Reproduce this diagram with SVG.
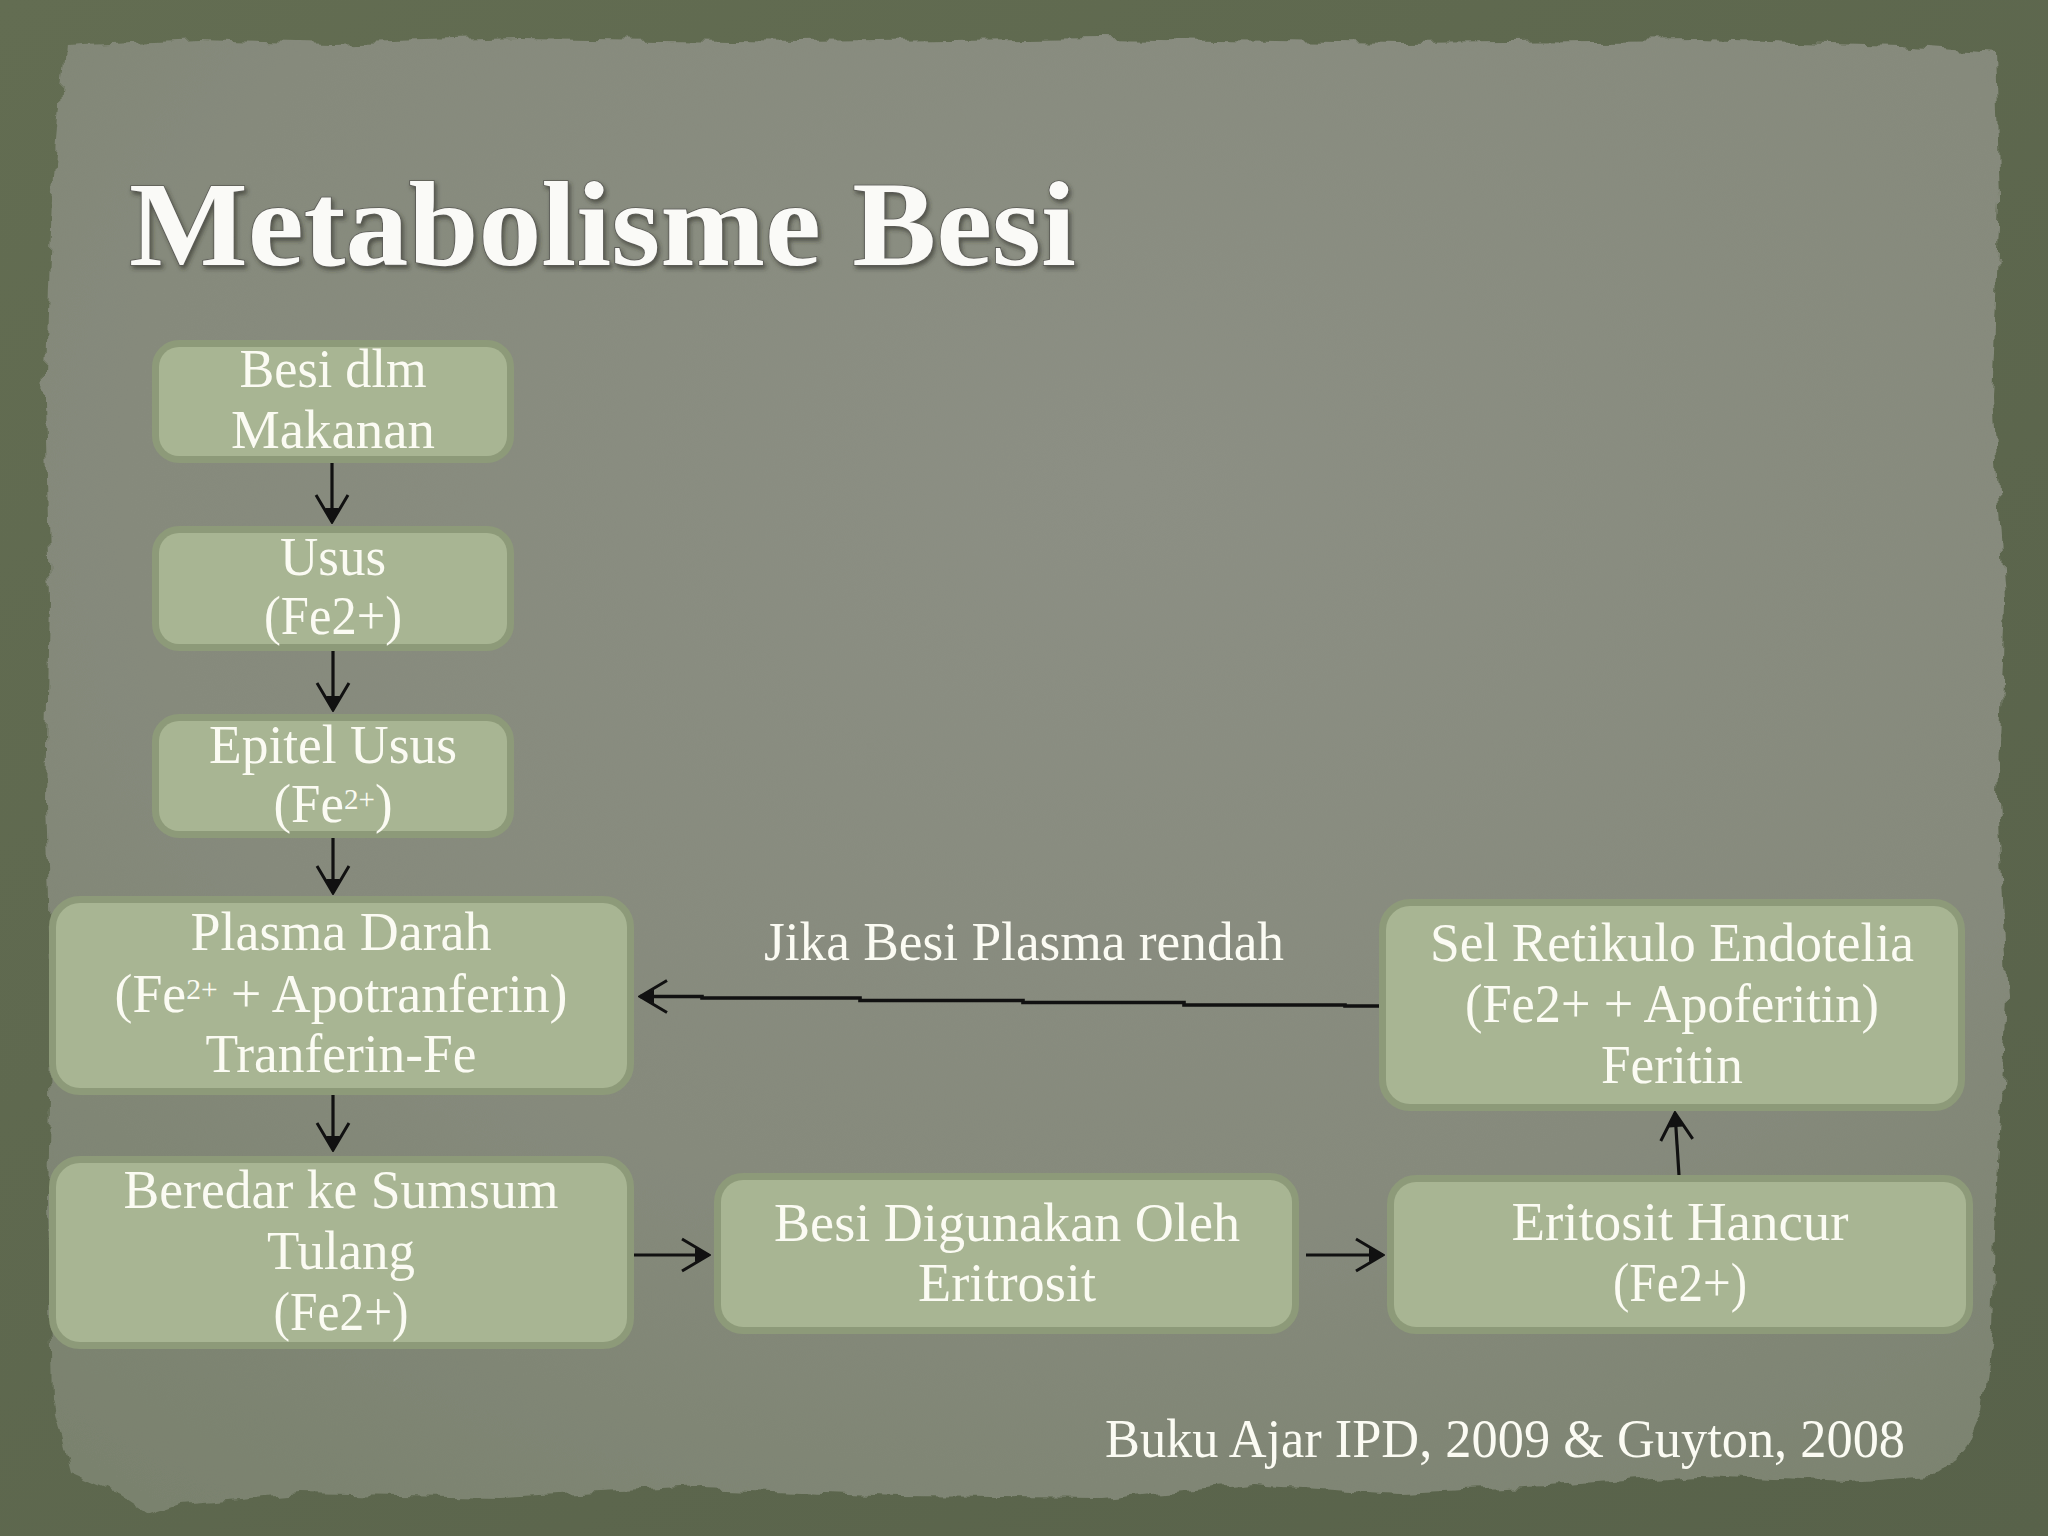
<svg xmlns="http://www.w3.org/2000/svg" width="2048" height="1536" viewBox="0 0 2048 1536">
  <defs>
    <style>
      .box { fill: #a8b593; stroke: #8d9a79; stroke-width: 14; paint-order: stroke; }
      .t { font-family: "Liberation Serif", "DejaVu Serif", serif; font-size: 54px; fill: #fbfbf3; text-anchor: middle; }
      .lbl { font-family: "Liberation Serif", "DejaVu Serif", serif; font-size: 54px; fill: #fbfbf3; }
      .sup { font-size: 55%; baseline-shift: 45%; }
      .conn { stroke: #111; stroke-width: 3.2; fill: none; }
      .title { font-family: "Liberation Serif", "DejaVu Serif", serif; font-size: 120px; font-weight: bold; fill: #fafaf7; stroke: #5a5a55; stroke-width: 1.6; paint-order: stroke; }
    </style>
    <marker id="arr" viewBox="-32 -20 34 40" markerWidth="34" markerHeight="40" refX="0" refY="0" orient="auto" markerUnits="userSpaceOnUse">
      <path d="M-27,-16 L0,0 L-27,16" fill="none" stroke="#111" stroke-width="3"/>
      <path d="M-14,-7 L0,0 L-14,7 Z" fill="#111"/>
    </marker>
    <radialGradient id="paperG" cx="0.55" cy="0.3" r="0.85">
      <stop offset="0" stop-color="#8c8f84"/>
      <stop offset="0.6" stop-color="#868a7c"/>
      <stop offset="1" stop-color="#7a826e"/>
    </radialGradient>
    <linearGradient id="frameG" x1="0" y1="0" x2="1" y2="1">
      <stop offset="0" stop-color="#636d52"/>
      <stop offset="1" stop-color="#58624a"/>
    </linearGradient>
    <filter id="rough" x="-2%" y="-2%" width="104%" height="104%">
      <feTurbulence type="fractalNoise" baseFrequency="0.04" numOctaves="3" seed="4" result="n"/>
      <feDisplacementMap in="SourceGraphic" in2="n" scale="14" xChannelSelector="R" yChannelSelector="G"/>
    </filter>
    <filter id="shadow" x="-5%" y="-20%" width="110%" height="140%">
      <feDropShadow dx="2" dy="3" stdDeviation="2" flood-color="#2a2a26" flood-opacity="0.6"/>
    </filter>
  </defs>

  <rect x="0" y="0" width="2048" height="1536" fill="url(#frameG)"/>
  <path filter="url(#rough)" fill="url(#paperG)" d="M65,46 L200,40 L330,44 L520,38 L800,42 L1100,38 L1400,43 L1700,40 L1900,46 L1995,53 L2000,200 L1992,400 L2005,600 L1998,800 L2008,1000 L1996,1200 L1992,1330 L1982,1410 L1962,1455 L1930,1476 L1850,1482 L1700,1476 L1550,1486 L1400,1493 L1250,1484 L1100,1498 L900,1496 L700,1488 L500,1498 L300,1494 L180,1504 L150,1514 L120,1494 L70,1472 L52,1400 L48,1200 L52,1000 L46,800 L50,600 L45,400 L52,200 Z"/>

  <text class="title" x="129" y="265" textLength="947" lengthAdjust="spacingAndGlyphs" filter="url(#shadow)">Metabolisme Besi</text>

  <g id="connectors">
    <line class="conn" x1="332" y1="462" x2="332" y2="522" marker-end="url(#arr)"/>
    <line class="conn" x1="333" y1="650" x2="333" y2="710" marker-end="url(#arr)"/>
    <line class="conn" x1="333" y1="837" x2="333" y2="893" marker-end="url(#arr)"/>
    <line class="conn" x1="333" y1="1093" x2="333" y2="1150" marker-end="url(#arr)"/>
    <line class="conn" x1="633" y1="1255" x2="709" y2="1255" marker-end="url(#arr)"/>
    <line class="conn" x1="1306" y1="1255" x2="1383" y2="1255" marker-end="url(#arr)"/>
    <line class="conn" x1="1679" y1="1175" x2="1675" y2="1113" marker-end="url(#arr)"/>
    <polyline class="conn" style="stroke-width:3.6" points="1381,1006 1345,1006 1345,1005 1184,1005 1184,1002.5 1023,1002.5 1023,1000.5 860,1000.5 860,998 702,998 702,996.5 640,996.5" marker-end="url(#arr)"/>
  </g>

  <text id="label-jika" class="lbl" x="764" y="960" textLength="520" lengthAdjust="spacingAndGlyphs">Jika Besi Plasma rendah</text>

  <g id="n1">
    <rect class="box" x="159" y="347" width="348" height="109" rx="20"/>
    <text class="t" x="333" y="387" textLength="187" lengthAdjust="spacingAndGlyphs">Besi dlm</text>
    <text class="t" x="333" y="448" textLength="204" lengthAdjust="spacingAndGlyphs">Makanan</text>
  </g>
  <g id="n2">
    <rect class="box" x="159" y="533" width="348" height="111" rx="20"/>
    <text class="t" x="333" y="575" textLength="106" lengthAdjust="spacingAndGlyphs">Usus</text>
    <text class="t" x="333" y="634" textLength="138" lengthAdjust="spacingAndGlyphs">(Fe2+)</text>
  </g>
  <g id="n3">
    <rect class="box" x="159" y="721" width="348" height="110" rx="20"/>
    <text class="t" x="333" y="763" textLength="248" lengthAdjust="spacingAndGlyphs">Epitel Usus</text>
    <text class="t" x="333" y="822" textLength="119" lengthAdjust="spacingAndGlyphs">(Fe<tspan class="sup">2+</tspan>)</text>
  </g>
  <g id="n4">
    <rect class="box" x="56" y="903" width="571" height="185" rx="24"/>
    <text class="t" x="341" y="950" textLength="301" lengthAdjust="spacingAndGlyphs">Plasma Darah</text>
    <text class="t" x="341" y="1012" textLength="453" lengthAdjust="spacingAndGlyphs">(Fe<tspan class="sup">2+</tspan> + Apotranferin)</text>
    <text class="t" x="341" y="1072" textLength="271" lengthAdjust="spacingAndGlyphs">Tranferin-Fe</text>
  </g>
  <g id="n5">
    <rect class="box" x="56" y="1163" width="571" height="179" rx="24"/>
    <text class="t" x="341" y="1208" textLength="435" lengthAdjust="spacingAndGlyphs">Beredar ke Sumsum</text>
    <text class="t" x="341" y="1269" textLength="148" lengthAdjust="spacingAndGlyphs">Tulang</text>
    <text class="t" x="341" y="1330" textLength="135" lengthAdjust="spacingAndGlyphs">(Fe2+)</text>
  </g>
  <g id="n6">
    <rect class="box" x="721" y="1180" width="571" height="147" rx="22"/>
    <text class="t" x="1007" y="1241" textLength="466" lengthAdjust="spacingAndGlyphs">Besi Digunakan Oleh</text>
    <text class="t" x="1007" y="1301" textLength="178" lengthAdjust="spacingAndGlyphs">Eritrosit</text>
  </g>
  <g id="n7">
    <rect class="box" x="1394" y="1182" width="572" height="145" rx="22"/>
    <text class="t" x="1680" y="1240" textLength="337" lengthAdjust="spacingAndGlyphs">Eritosit Hancur</text>
    <text class="t" x="1680" y="1301" textLength="134" lengthAdjust="spacingAndGlyphs">(Fe2+)</text>
  </g>
  <g id="n8">
    <rect class="box" x="1386" y="906" width="572" height="198" rx="24"/>
    <text class="t" x="1672" y="961" textLength="484" lengthAdjust="spacingAndGlyphs">Sel Retikulo Endotelia</text>
    <text class="t" x="1672" y="1022" textLength="414" lengthAdjust="spacingAndGlyphs">(Fe2+ + Apoferitin)</text>
    <text class="t" x="1672" y="1083" textLength="142" lengthAdjust="spacingAndGlyphs">Feritin</text>
  </g>

  <text id="citation" class="lbl" x="1105" y="1457" textLength="800" lengthAdjust="spacingAndGlyphs">Buku Ajar IPD, 2009 &amp; Guyton, 2008</text>
</svg>
